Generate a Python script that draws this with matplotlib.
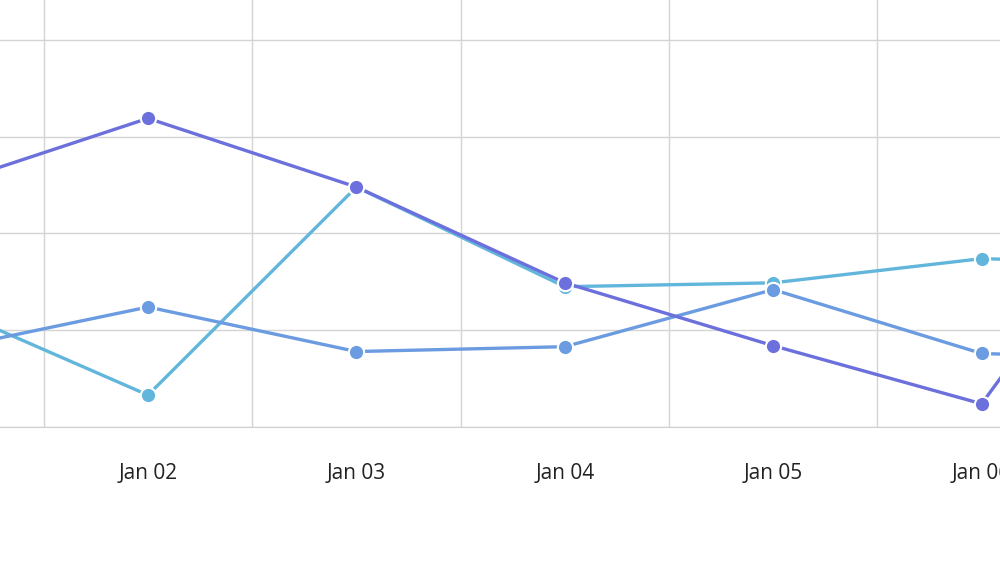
import matplotlib
matplotlib.use("Agg")
import matplotlib.pyplot as plt
import numpy as np

dates = ["Jan 01", "Jan 02", "Jan 03", "Jan 04", "Jan 05", "Jan 06", "Jan 07"]
series_purple = [2.48, 3.19, 2.48, 1.49, 0.84, 0.24, 3.18]
series_light = [1.27, 0.33, 2.48, 1.45, 1.49, 1.74, 1.68]
series_mid = [0.79, 1.24, 0.78, 0.83, 1.42, 0.76, 0.69]

colors = {"light": "#62b6dc", "mid": "#6b9be0", "purple": "#6b70dc"}

plt.rcParams['font.family'] = ['Open Sans', 'DejaVu Sans']
fig = plt.figure(figsize=(10, 5.62), dpi=100)
ax = fig.add_axes([0, 135 / 562, 1, 427 / 562])
x = np.arange(len(dates))

for vals, key, z in [(series_light, "light", 2), (series_mid, "mid", 3), (series_purple, "purple", 4)]:
    ax.plot(x, vals, color=colors[key], lw=2.4, marker='o', ms=11,
            markeredgecolor='white', markeredgewidth=1.5, zorder=z, clip_on=True)

ax.set_xticks(x)
ax.set_xticklabels(dates, fontsize=15, color='#222222')
ax.set_xticks(x[:-1] + 0.5, minor=True)
ax.set_yticks([0, 1, 2, 3, 4])
ax.set_yticklabels([])
ax.set_xlim(0.29, 5.088)
ax.set_ylim(0, 4.413)
ax.tick_params(axis='x', which='major', length=0, pad=26)
ax.tick_params(axis='x', which='minor', length=0)
ax.tick_params(axis='y', length=0)
ax.grid(True, which='minor', axis='x', color='#d4d4d4', lw=1)
ax.grid(True, which='major', axis='y', color='#d4d4d4', lw=1)
for s in ['top', 'left', 'right']:
    ax.spines[s].set_visible(False)
ax.spines['bottom'].set_color('#cfcfcf')
ax.set_axisbelow(True)

fig.savefig("out.png", dpi=100)
